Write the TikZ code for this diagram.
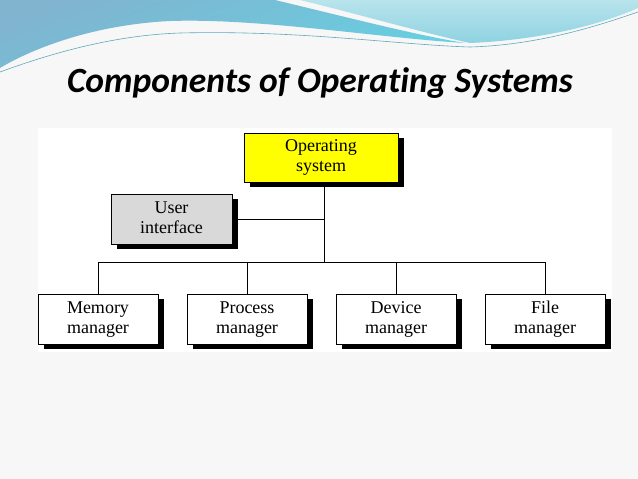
\documentclass[tikz,border=0pt]{standalone}
\usepackage{fontspec}
\setmainfont{Liberation Serif}
\newfontfamily\titlefont[Ligatures=NoCommon]{Carlito}
\usetikzlibrary{shadows}
\definecolor{slidebg}{HTML}{F7F7F7}
\definecolor{steel}{HTML}{80B4CF}
\definecolor{cyanlow}{HTML}{66D0E2}
\definecolor{lightcy}{HTML}{B8E4EC}
\definecolor{midcy}{HTML}{8ED2E2}
\definecolor{tealline}{HTML}{5FA9BA}
\definecolor{uigray}{HTML}{D9D9D9}
\definecolor{osyellow}{HTML}{FFFF00}
\begin{document}
\begin{tikzpicture}[x=1pt,y=-1pt,
  box/.style={draw=black, line width=0.8pt, minimum width=120pt, minimum height=50pt,
    inner sep=0pt, align=center, font=\fontsize{18}{20}\selectfont,
    drop shadow={shadow xshift=6pt, shadow yshift=-5pt, fill=black, opacity=1}},
  link/.style={draw=black, line width=0.8pt}]
\useasboundingbox (0,0) rectangle (638,479);
\fill[slidebg] (0,0) rectangle (638,479);
% top decoration
\shade[top color=steel, bottom color=cyanlow, shading angle=20]
  (0,0) -- (275,0) .. controls (350,18) and (420,36) .. (465,43)
  .. controls (380,38) and (260,18) .. (170,21)
  .. controls (90,25) and (30,50) .. (0,68) -- cycle;
\shade[top color=lightcy, bottom color=midcy]
  (300,0) -- (638,0) -- (638,8) .. controls (600,25) and (540,40) .. (470,43)
  .. controls (420,32) and (350,12) .. (300,0) -- cycle;
\draw[tealline, line width=0.6pt]
  (0,72) .. controls (60,50) and (120,35) .. (180,33)
  .. controls (300,30) and (400,45) .. (470,47)
  .. controls (540,45) and (600,25) .. (638,12);
% title
\node (title) at (320,83) {\titlefont\bfseries\itshape\fontsize{35.5}{40}\selectfont Components of Operating Systems};
% panel
\fill[white] (38,128) rectangle (612,352);
% boxes
\node[box, fill=osyellow, minimum width=154pt, minimum height=49pt] (os) at (321,157.5) {Operating\strut\\system\strut};
\node[box, fill=uigray, minimum width=121pt] (ui) at (171.5,219) {User\strut\\interface\strut};
\node[box, fill=white] (mem) at (98,319) {Memory\strut\\manager\strut};
\node[box, fill=white] (pro) at (247,319) {Process\strut\\manager\strut};
\node[box, fill=white] (dev) at (396,319) {Device\strut\\manager\strut};
\node[box, fill=white] (fil) at (545,319) {File\strut\\manager\strut};
% connectors
\coordinate (j) at (324,262);
\draw[link] (os.south -| j) -- (j);
\draw[link] (ui.east) -- (ui.east -| j);
\draw[link] (mem.north) |- (fil.north |- j) -- (fil.north);
\draw[link] (pro.north) -- (pro.north |- j);
\draw[link] (dev.north) -- (dev.north |- j);
\end{tikzpicture}
\end{document}
